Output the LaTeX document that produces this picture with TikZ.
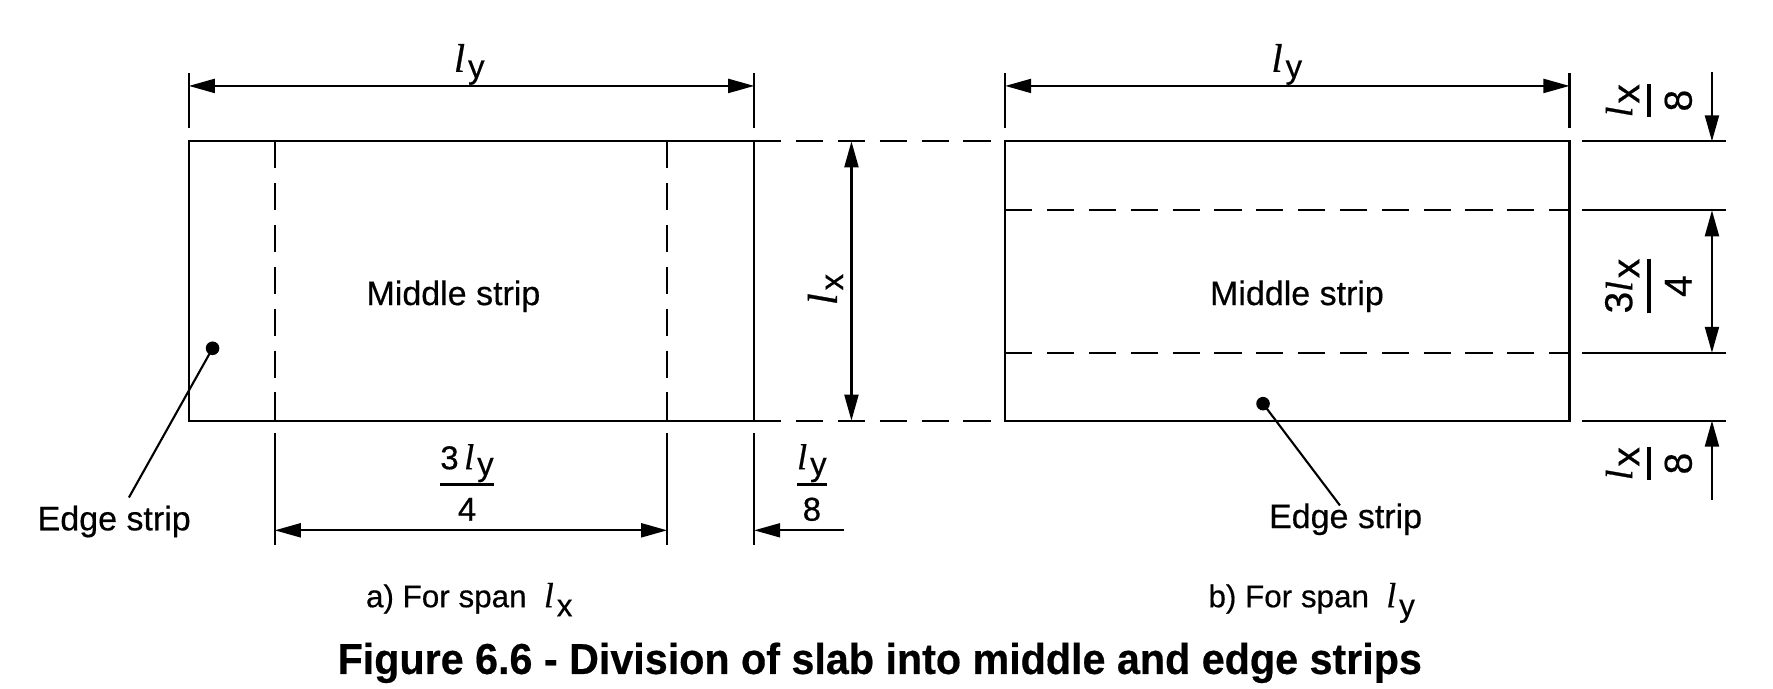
\documentclass[tikz,border=0pt]{standalone}
\usepackage{fontspec}
\setmainfont{Liberation Sans}[FakeBold=0.45]
\newfontfamily\lfont{Liberation Serif}[FakeBold=0.6]
\usetikzlibrary{arrows.meta}
\newcommand\Lsub[3][0.35ex]{{\lfont\itshape\fontsize{#2}{#2}\selectfont l}\kern1.5pt\raisebox{-#1}{#3}}
\newcommand\Frac[2]{{\setlength\arrayrulewidth{1.7pt}\begin{tabular}{@{}c@{}}#1\\[1pt]\hline\rule{0pt}{1.05em}#2\end{tabular}}}
\begin{document}
\begin{tikzpicture}[x=0.5654pt,y=-0.5654pt, line width=1.05pt,
  >={Triangle[length=13pt,width=7pt]},
  dashline/.style={dash pattern=on 13.57pt off 7.35pt},
  lbl/.style={inner sep=0pt, font=\fontsize{17}{20}\selectfont},
  dimlbl/.style={inner sep=0pt, font=\fontsize{16.5}{19}\selectfont},
  rotlbl/.style={inner sep=0pt, rotate=90, font=\fontsize{19.5}{22}\selectfont},
  captxt/.style={inner sep=0pt, font=\fontsize{15.7}{18}\selectfont}]
\useasboundingbox (0,0) rectangle (1568,609);

% ---------- a) ----------
\coordinate (a1) at (167,125);
\coordinate (a2) at (667,372);
\draw (a1) rectangle (a2);
\draw[dashline] (243,125) -- (243,372);
\draw[dashline] (590,125) -- (590,372);
\node[lbl] (ams) at (401,262) {Middle strip};

% top dimension
\coordinate (at1) at (167,65); \coordinate (at1b) at (167,113);
\coordinate (at2) at (667,65); \coordinate (at2b) at (667,113);
\draw (at1) -- (at1b);
\draw (at2) -- (at2b);
\draw[<->] (167,76) -- (667,76);
\node[dimlbl] (aly) at (415,57) {\Lsub{20}{y}};

% edge strip leader
\coordinate (adot) at (188,308);
\coordinate (alead) at (114,440);
\fill (adot) circle (3.4pt);
\draw (adot) -- (alead);
\node[lbl, anchor=base] (aes) at (101,469) {Edge strip};

% bottom dimensions
\draw (243,383) -- (243,482);
\draw (590,383) -- (590,482);
\draw (667,383) -- (667,482);
\draw[<->] (243,469) -- (590,469);
\draw[->] (746,469) -- (667,469);
\node[dimlbl] (a34) at (413,431) {\Frac{3\,\Lsub{18}{y}}{4}};
\node[dimlbl] (a18) at (718,431) {\Frac{\Lsub{18}{y}}{8}};

% ---------- middle ----------
\draw[dashline] (667,125) -- (889,125);
\draw[dashline] (667,372) -- (889,372);
\draw[<->] (753,125) -- (753,372);
\node[dimlbl, rotate=90] (mlx) at (730,256) {\Lsub{21}{x}};

% ---------- b) ----------
\coordinate (b1) at (889,125);
\coordinate (b2) at (1388,372);
\draw (b1) rectangle (b2);
\draw[dashline] (889,186) -- (1388,186);
\draw[dashline] (889,312) -- (1388,312);
\node[lbl] (bms) at (1147,262) {Middle strip};

% top dimension
\draw (889,65) -- (889,113);
\draw (1388,65) -- (1388,113);
\draw[<->] (889,76) -- (1388,76);
\node[dimlbl] (bly) at (1138,57) {\Lsub{20}{y}};

% right dimensions
\draw (1399,125) -- (1526,125);
\draw (1399,186) -- (1526,186);
\draw (1399,312) -- (1526,312);
\draw (1399,372) -- (1526,372);
\draw[->] (1514,64) -- (1514,125);
\draw[<->] (1514,186) -- (1514,312);
\draw[->] (1514,442) -- (1514,372);
\node[rotlbl] (b18a) at (1462,89) {\Frac{\Lsub{19}{x}}{8}};
\node[rotlbl] (b34) at (1462,253) {\Frac{3\Lsub{19}{x}}{4}};
\node[rotlbl] (b18b) at (1462,410) {\Frac{\Lsub{19}{x}}{8}};

% edge strip leader
\coordinate (bdot) at (1117,357);
\coordinate (blead) at (1185,447);
\fill (bdot) circle (3.4pt);
\draw (bdot) -- (blead);
\node[lbl, anchor=base] (bes) at (1190,467) {Edge strip};

% ---------- captions ----------
\node[captxt, anchor=base] (capa) at (415,537) {a) For span~ \Lsub[0.55ex]{17.5}{x}};
\node[captxt, anchor=base] (capb) at (1160,537) {b) For span~ \Lsub[0.55ex]{17.5}{y}};
\node[inner sep=0pt, anchor=base, font=\bfseries\fontsize{21.6}{25}\selectfont] (title) at (778,596)
  {\scalebox{0.955}[1]{Figure 6.6 - Division of slab into middle and edge strips}};
\end{tikzpicture}
\end{document}
